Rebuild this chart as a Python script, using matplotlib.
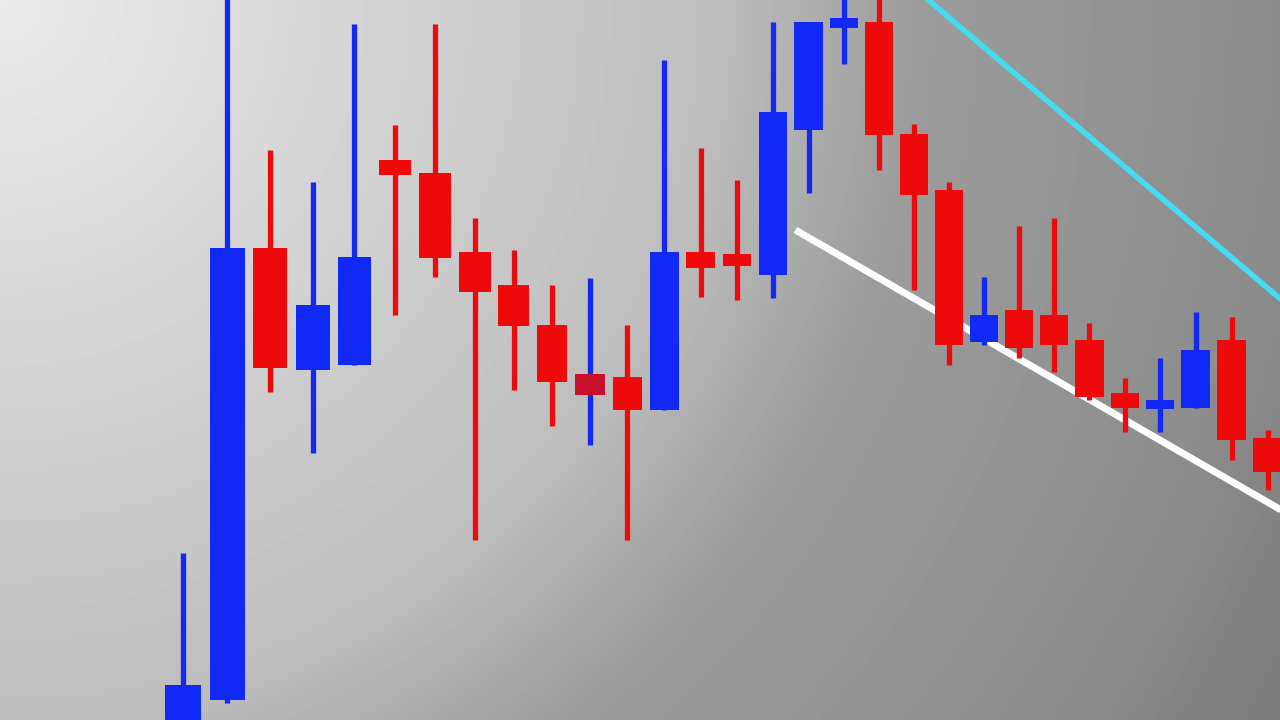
import numpy as np
import matplotlib
matplotlib.use("Agg")
import matplotlib.pyplot as plt

# candle data (price units, higher = up)
opens  = [-15, 20, 472, 350, 355, 560, 547, 468, 435, 395, 325, 343, 310, 468, 466, 445, 590, 692, 698, 586, 530, 378, 410, 405, 380, 327, 312, 312, 380, 282]
closes = [35, 472, 352, 415, 463, 545, 462, 428, 394, 338, 346, 310, 468, 452, 454, 608, 698, 702, 585, 525, 375, 405, 372, 375, 323, 312, 320, 370, 280, 248]
highs  = [167, 730, 570, 538, 696, 595, 696, 502, 470, 435, 442, 395, 660, 572, 540, 698, 698, 725, 725, 596, 538, 443, 494, 502, 397, 342, 362, 408, 403, 290]
lows   = [-20, 17, 328, 267, 355, 405, 443, 180, 330, 294, 275, 180, 310, 423, 420, 422, 527, 656, 550, 430, 355, 375, 362, 348, 320, 288, 288, 312, 260, 230]

# trend lines (x in candle index, y in price)
support_x = [15.63, 29.6]
support_y = [490, 205]
resist_x = [19.3, 29.6]
resist_y = [723, 413]

up_col = "#1228f5"
down_col = "#ee0a0a"

# slight perspective on the time axis
a2, a3 = -0.010281, 0.00016373
grid = np.linspace(-60, 90, 20001)


def fwd(x):
    x = np.asarray(x, dtype=float)
    return x + a2 * x ** 2 + a3 * x ** 3


def inv(y):
    return np.interp(y, fwd(grid), grid)


fig = plt.figure(figsize=(12.8, 7.2), dpi=100)
ax = fig.add_axes([0, 0, 1, 1])

# background gradient
h, w = 360, 640
yy, xx = np.mgrid[0:h, 0:w]
d = np.hypot(xx * 2.0, yy * 2.0)
v = np.interp(d, [0, 720, 916, 1280, 1469], [236, 189, 156, 140, 122]) / 255.0
ax.imshow(v, cmap="gray", vmin=0, vmax=1, extent=[0, 1, 0, 1], origin="upper",
          transform=ax.transAxes, aspect="auto", zorder=0)

ax.set_xscale("function", functions=(fwd, inv))
idx = np.arange(len(opens))
for i in idx:
    o, c, hi, lo = opens[i], closes[i], highs[i], lows[i]
    col = up_col if c >= o else down_col
    wick_col = col
    body_col = col
    if i == 10:
        wick_col = up_col
        body_col = "#c8102a"
    ax.vlines(i, lo, hi, color=wick_col, lw=3.8, zorder=2)
    ax.bar(i, abs(c - o) if abs(c - o) > 8 else 9, width=0.8,
           bottom=min(o, c) if abs(c - o) > 8 else (o + c) / 2 - 4.5,
           color=body_col, zorder=3)

ax.plot(support_x, support_y, color="white", lw=5, solid_capstyle="butt", zorder=1)
ax.plot(resist_x, resist_y, color="#45dcf2", lw=4, solid_capstyle="butt", zorder=1)

ax.set_xlim(inv(-4.107), inv(24.618))
ax.set_ylim(0, 720)
ax.axis("off")

fig.savefig("out.png", dpi=100)
